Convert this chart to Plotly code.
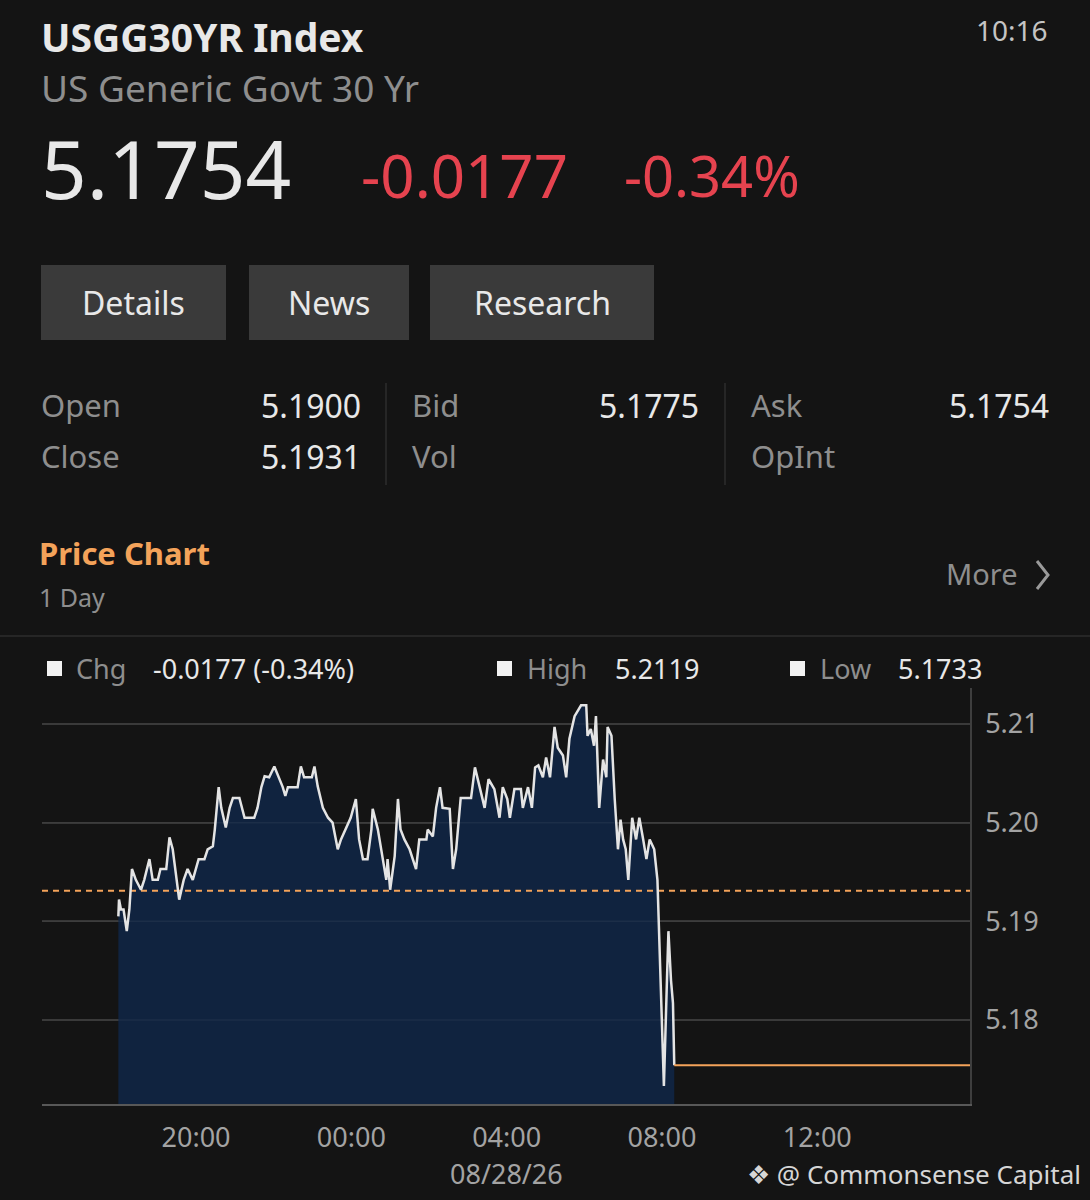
import pandas as pd
import plotly.graph_objects as go

# --- Quote data ---
ticker = "USGG30YR Index"
description = "US Generic Govt 30 Yr"
clock = "10:16"
last_price = 5.1754
prev_close = 5.1931
open_price = 5.1900
bid = 5.1775
ask = 5.1754
net_change = -0.0177
pct_change = -0.34

# --- Intraday series (minutes after 18:00 on 08/27/26, yield) ---
session_start = "2026-08-27 18:00"
minutes = [0, 1, 4, 8, 13, 17, 21, 27, 35, 40, 48, 53, 61, 65, 74, 79, 84, 89, 94, 101,
           107, 115, 124, 133, 138, 146, 149, 155, 159, 166, 172, 177, 187, 195, 210, 215,
           221, 226, 233, 241, 249, 254, 258, 262, 277, 282, 287, 299, 303, 308, 316, 324,
           331, 339, 344, 352, 359, 367, 372, 378, 385, 391, 393, 401, 409, 414, 416, 420,
           427, 432, 436, 442, 450, 455, 460, 465, 476, 478, 486, 491, 497, 501, 512, 517,
           522, 529, 545, 551, 558, 566, 572, 581, 589, 594, 601, 605, 612, 622, 625, 633,
           639, 644, 649, 656, 661, 667, 674, 679, 687, 692, 697, 705, 715, 723, 725, 730,
           735, 738, 743, 749, 754, 756, 762, 764, 767, 772, 776, 780, 784, 788, 794, 800,
           805, 811, 816, 821, 828, 833, 843, 848, 850, 854, 857, 859]
yields = [5.1905, 5.1922, 5.1912, 5.1912, 5.1890, 5.1912, 5.1953, 5.1942, 5.1932, 5.1942,
          5.1963, 5.1942, 5.1942, 5.1953, 5.1953, 5.1985, 5.1973, 5.1946, 5.1922, 5.1942,
          5.1953, 5.1942, 5.1963, 5.1963, 5.1973, 5.1976, 5.1993, 5.2036, 5.2015, 5.1995,
          5.2015, 5.2025, 5.2025, 5.2005, 5.2005, 5.2015, 5.2036, 5.2047, 5.2046, 5.2057,
          5.2044, 5.2036, 5.2027, 5.2036, 5.2036, 5.2057, 5.2046, 5.2046, 5.2057, 5.2037,
          5.2015, 5.2005, 5.2000, 5.1973, 5.1983, 5.1995, 5.2005, 5.2024, 5.1983, 5.1963,
          5.1963, 5.1993, 5.2014, 5.1993, 5.1963, 5.1942, 5.1963, 5.1932, 5.1966, 5.2024,
          5.1993, 5.1983, 5.1973, 5.1963, 5.1953, 5.1983, 5.1983, 5.1993, 5.1986, 5.2015,
          5.2036, 5.2015, 5.2014, 5.1953, 5.1973, 5.2025, 5.2025, 5.2056, 5.2036, 5.2015,
          5.2044, 5.2034, 5.2005, 5.2036, 5.2024, 5.2005, 5.2034, 5.2034, 5.2015, 5.2036,
          5.2015, 5.2056, 5.2058, 5.2046, 5.2066, 5.2046, 5.2097, 5.2076, 5.2068, 5.2046,
          5.2085, 5.2108, 5.2119, 5.2119, 5.2088, 5.2095, 5.2078, 5.2108, 5.2015, 5.2064,
          5.2046, 5.2097, 5.2088, 5.2058, 5.2024, 5.1973, 5.2003, 5.1983, 5.1973, 5.1942,
          5.2005, 5.1983, 5.2005, 5.1983, 5.1963, 5.1983, 5.1973, 5.1942, 5.1733, 5.1847,
          5.1890, 5.1840, 5.1817, 5.1754]

x_range = ["2026-08-27 16:02", "2026-08-28 15:56"]
y_range = [5.17148, 5.21365]
tick_times = ["2026-08-27 20:00", "2026-08-28 00:00", "2026-08-28 04:00",
              "2026-08-28 08:00", "2026-08-28 12:00"]
tick_labels = ["20:00", "00:00", "04:00", "08:00", "12:00"]
y_ticks = [5.18, 5.19, 5.20, 5.21]
date_label = "08/28/26"

# --- Colours ---
BG = "#141414"
WHITE = "#e8e8e8"
GREY = "#8e8e8e"
RED = "#e6434f"
ORANGE = "#f4a35a"
FILL = "#10233f"
FONT = "Noto Sans"

W, H = 1090, 1200


def px(x):
    return x / W


def py(y):
    return 1 - y / H


times = pd.Timestamp(session_start) + pd.to_timedelta(minutes, unit="min")

fig = go.Figure()

# area under the line
fig.add_trace(go.Scatter(
    x=times, y=yields, mode="lines", fill="tozeroy", fillcolor=FILL,
    line=dict(width=0, color=FILL), hoverinfo="skip"
))
# previous close reference
fig.add_trace(go.Scatter(
    x=x_range, y=[prev_close, prev_close], mode="lines",
    line=dict(color=ORANGE, width=2, dash="6px,5px"), hoverinfo="skip"
))
# price line
fig.add_trace(go.Scatter(
    x=times, y=yields, mode="lines",
    line=dict(color="#e4e4e4", width=2.5)
))
# last price carried forward
fig.add_trace(go.Scatter(
    x=[times[-1], x_range[1]], y=[last_price, last_price], mode="lines",
    line=dict(color=ORANGE, width=2), hoverinfo="skip"
))

annotations = []


def text(x, y, s, size, color, anchor="left", bold=False):
    # annotation boxes carry a few px of padding, nudge to the visible edge
    if anchor == "left":
        x -= 3
    elif anchor == "right":
        x += 3
    if bold:
        s = f"<b>{s}</b>"
    annotations.append(dict(
        x=px(x), y=py(y), xref="paper", yref="paper", text=s, showarrow=False,
        xanchor=anchor, yanchor="middle", font=dict(family=FONT, size=size, color=color)
    ))


# --- Header ---
text(42, 36, ticker, 39, WHITE, bold=True)
text(1047, 30, clock, 28, "#c4c4c4", anchor="right")
text(42, 87, description, 37, GREY)
text(42, 167, f"{last_price:.4f}", 80, WHITE)
text(362, 175, f"{net_change:.4f}", 60, RED)
text(625, 175, f"{pct_change:.2f}%", 56, RED)

# --- Buttons ---
shapes = []
buttons = [("Details", 41, 226), ("News", 249, 409), ("Research", 430, 654)]
for label, x0, x1 in buttons:
    shapes.append(dict(type="rect", xref="paper", yref="paper",
                       x0=px(x0), x1=px(x1), y0=py(340), y1=py(265),
                       fillcolor="#3a3a3a", line=dict(width=0), layer="below"))
    text((x0 + x1) / 2, 302, label, 32, WHITE, anchor="center")

# --- Stats table ---
text(42, 405, "Open", 31, GREY)
text(360, 405, f"{open_price:.4f}", 32, WHITE, anchor="right")
text(42, 456, "Close", 31, GREY)
text(360, 456, f"{prev_close:.4f}", 32, WHITE, anchor="right")
text(413, 405, "Bid", 31, GREY)
text(698, 405, f"{bid:.4f}", 32, WHITE, anchor="right")
text(413, 456, "Vol", 31, GREY)
text(752, 405, "Ask", 31, GREY)
text(1048, 405, f"{ask:.4f}", 32, WHITE, anchor="right")
text(752, 456, "OpInt", 31, GREY)
for xs in (386, 725):
    shapes.append(dict(type="line", xref="paper", yref="paper",
                       x0=px(xs), x1=px(xs), y0=py(383), y1=py(485),
                       line=dict(color="#2c2c2c", width=1.5)))

# --- Section title ---
text(40, 553, "Price Chart", 31, ORANGE, bold=True)
text(40, 597, "1 Day", 25, GREY)
text(1017, 574, "More", 29, GREY, anchor="right")
shapes.append(dict(type="path", xref="paper", yref="paper",
                   path=f"M {px(1037)} {py(561)} L {px(1048)} {py(575)} L {px(1037)} {py(589)}",
                   line=dict(color="#9a9a9a", width=3)))
shapes.append(dict(type="line", xref="paper", yref="paper",
                   x0=0, x1=1, y0=py(636), y1=py(636),
                   line=dict(color="#262626", width=2)))

# --- Chart stats row ---
high = max(yields)
low = min(yields)
for x0 in (47, 497, 790):
    shapes.append(dict(type="rect", xref="paper", yref="paper",
                       x0=px(x0), x1=px(x0 + 15), y0=py(676), y1=py(661),
                       fillcolor="#f2f2f2", line=dict(width=0)))
text(77, 668, "Chg", 27, GREY)
text(154, 668, f"{net_change:.4f} ({pct_change:.2f}%)", 27, WHITE)
text(528, 668, "High", 27, GREY)
text(616, 668, f"{high:.4f}", 27, WHITE)
text(821, 668, "Low", 27, GREY)
text(899, 668, f"{low:.4f}", 27, WHITE)

# faint grid lines over the filled area
for v in y_ticks:
    shapes.append(dict(type="line", xref="x domain", yref="y", x0=0, x1=1, y0=v, y1=v,
                       line=dict(color="rgba(255,255,255,0.05)", width=1.5), layer="above"))

# date under the 04:00 tick
annotations.append(dict(
    x=tick_times[2], y=py(1173), xref="x", yref="paper", text=date_label, showarrow=False,
    xanchor="center", yanchor="middle", font=dict(family=FONT, size=27, color="#a3a3a3")
))
text(1080, 1174, "❖ @ Commonsense Capital", 26, "#d6d6d6", anchor="right")

fig.update_layout(
    width=W, height=H,
    margin=dict(l=0, r=0, t=0, b=0),
    paper_bgcolor=BG, plot_bgcolor=BG,
    showlegend=False,
    font=dict(family=FONT, color=WHITE),
    annotations=annotations,
    shapes=shapes,
    xaxis=dict(
        domain=[px(42), px(970)], range=x_range, type="date",
        tickvals=tick_times, ticktext=tick_labels,
        tickfont=dict(size=27, color="#a3a3a3"),
        showgrid=False, zeroline=False, showline=True, linecolor="#585858", linewidth=2,
        ticks="", ticklabelstandoff=9, fixedrange=True
    ),
    yaxis=dict(
        domain=[py(1104), py(688)], range=y_range, side="right",
        tickvals=y_ticks, ticktext=[f"{v:.2f}" for v in y_ticks],
        tickfont=dict(size=27, color="#a3a3a3"),
        showgrid=True, gridcolor="#333333", gridwidth=1.5, zeroline=False,
        showline=True, linecolor="#3e3e3e", linewidth=1.5,
        ticks="", ticklabelstandoff=8, fixedrange=True
    ),
)

fig.write_html("out.html", config={"displayModeBar": False},
               post_script="document.body.style.margin='0';document.body.style.overflow='hidden';")
